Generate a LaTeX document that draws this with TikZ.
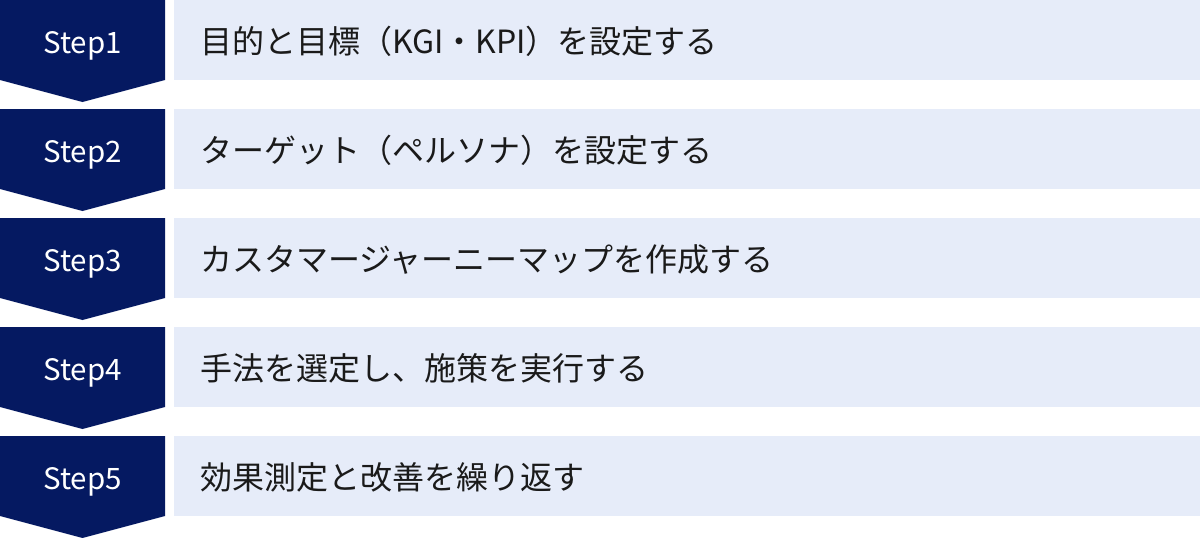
\documentclass[tikz,border=0pt]{standalone}
\usepackage{fontspec}
\setmainfont{Noto Sans CJK JP}
\definecolor{stepnavy}{HTML}{051961}
\definecolor{rowblue}{HTML}{E6ECF9}
\definecolor{rowink}{HTML}{1A1A1A}
\def\stepbadge(#1){\fill[stepnavy] (0,#1) -- (165,#1) -- (165,{#1+80}) -- (82.5,{#1+102}) -- (0,{#1+80}) -- cycle;}
\tikzset{
	steplabel/.style={anchor=base, text=white, inner sep=0pt, font=\fontsize{29.5}{32}\selectfont},
	rowtext/.style={anchor=base west, text=rowink, inner sep=0pt, font=\fontsize{32}{36}\selectfont}
}

\begin{document}
\begin{tikzpicture}[x=1pt, y=-1pt]
		%%%%% START %%%%%
		\useasboundingbox (0,0) rectangle (1200,538);
		
		\fill[rowblue] (174,0) rectangle (1200,80);
		\stepbadge(0)
		\node[steplabel] (step1) at (82.5,53) {Step1};
		\node[rowtext] (text1) at (200,53) {目的と目標（KGI・KPI）を設定する};
		
		\fill[rowblue] (174,109) rectangle (1200,189);
		\stepbadge(109)
		\node[steplabel] (step2) at (82.5,162) {Step2};
		\node[rowtext] (text2) at (200,162) {ターゲット（ペルソナ）を設定する};
		
		\fill[rowblue] (174,218) rectangle (1200,298);
		\stepbadge(218)
		\node[steplabel] (step3) at (82.5,271) {Step3};
		\node[rowtext] (text3) at (200,271) {カスタマージャーニーマップを作成する};
		
		\fill[rowblue] (174,327) rectangle (1200,407);
		\stepbadge(327)
		\node[steplabel] (step4) at (82.5,380) {Step4};
		\node[rowtext] (text4) at (200,380) {手法を選定し、施策を実行する};
		
		\fill[rowblue] (174,436) rectangle (1200,516);
		\stepbadge(436)
		\node[steplabel] (step5) at (82.5,489) {Step5};
		\node[rowtext] (text5) at (200,489) {効果測定と改善を繰り返す};
		
		%%%%% END %%%%%
\end{tikzpicture}
\end{document}
